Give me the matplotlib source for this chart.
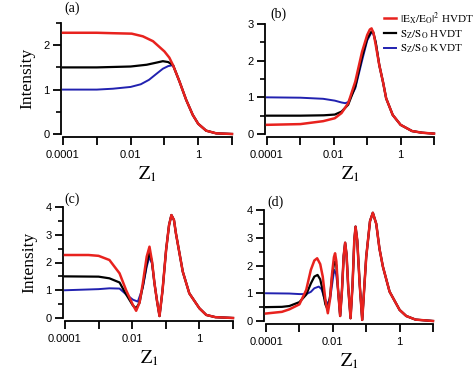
import matplotlib
matplotlib.use("Agg")
import matplotlib.pyplot as plt
from matplotlib.ticker import FixedLocator, MultipleLocator

plt.rcParams['mathtext.fontset'] = 'stix'

RED = '#e8221e'
BLACK = '#000000'
BLUE = '#2121b0'

# ---- panel (a) ----
za_tail = [0.28, 0.44, 0.69, 1.0, 1.72, 3.4, 10]
a_tail = [1.18, 0.77, 0.43, 0.23, 0.075, 0.015, 0.0]
za_red = [1e-4, 1e-3, 3e-3, 0.0108, 0.023, 0.046, 0.1, 0.14, 0.18]
a_red = [2.28, 2.28, 2.27, 2.26, 2.2, 2.09, 1.86, 1.72, 1.55]
za_black = [1e-4, 1e-3, 0.01, 0.03, 0.06, 0.09, 0.13, 0.18]
a_black = [1.5, 1.5, 1.52, 1.56, 1.61, 1.64, 1.62, 1.55]
za_blue = [1e-4, 1e-3, 3e-3, 0.01, 0.02, 0.035, 0.057, 0.09, 0.13, 0.18]
a_blue = [1.0, 1.0, 1.02, 1.06, 1.12, 1.22, 1.35, 1.47, 1.53, 1.55]

# ---- panel (b) ----
zb_tail = [0.23, 0.3, 0.37, 0.58, 1.0, 2.2, 4.4, 10]
b_tail = [1.88, 1.4, 0.97, 0.52, 0.25, 0.08, 0.035, 0.01]
zb_red = [1e-4, 1e-3, 0.0048, 0.0107, 0.017, 0.027, 0.044, 0.07, 0.1, 0.12, 0.135, 0.155, 0.18]
b_red = [0.25, 0.27, 0.35, 0.43, 0.57, 0.84, 1.43, 2.24, 2.7, 2.85, 2.88, 2.75, 2.43]
zb_black = [1e-4, 1e-3, 0.005, 0.0107, 0.017, 0.027, 0.044, 0.07, 0.1, 0.13, 0.15, 0.18]
b_black = [0.5, 0.5, 0.51, 0.53, 0.61, 0.8, 1.3, 2.1, 2.6, 2.78, 2.79, 2.5]
zb_blue = [1e-4, 1e-3, 0.0048, 0.0107, 0.017, 0.022, 0.027, 0.044, 0.07, 0.1, 0.13, 0.15, 0.18]
b_blue = [1.0, 0.99, 0.96, 0.91, 0.86, 0.84, 0.87, 1.25, 2.0, 2.55, 2.75, 2.76, 2.5]

# ---- panel (c) ----
zc_tail = [0.046, 0.055, 0.065, 0.08, 0.102, 0.125, 0.147, 0.175, 0.2, 0.32, 0.5, 1.0, 1.6, 3, 10]
c_tail = [1.25, 0.6, 0.07, 1.0, 2.45, 3.35, 3.71, 3.53, 3.05, 1.67, 0.89, 0.35, 0.11, 0.03, 0.0]
zc_red = [1e-4, 5e-4, 1e-3, 0.0021, 0.0042, 0.0066, 0.0105, 0.0131, 0.0165, 0.0207, 0.027, 0.0327, 0.039]
c_red = [2.27, 2.27, 2.24, 2.09, 1.61, 1.0, 0.47, 0.26, 0.55, 1.25, 2.21, 2.57, 2.03]
zc_black = [1e-4, 1e-3, 0.0021, 0.0042, 0.0066, 0.0105, 0.0131, 0.0165, 0.0207, 0.027, 0.0327, 0.039]
c_black = [1.5, 1.49, 1.43, 1.28, 0.85, 0.45, 0.35, 0.55, 1.15, 1.95, 2.39, 2.0]
zc_blue = [1e-4, 1e-3, 0.0021, 0.0042, 0.0066, 0.0105, 0.0147, 0.0207, 0.027, 0.0327, 0.039]
c_blue = [1.0, 1.04, 1.07, 1.06, 0.85, 0.66, 0.59, 1.1, 1.85, 2.21, 1.95]

# ---- panel (d) ----
zd_tail = [0.0142, 0.0166, 0.0188, 0.0212, 0.0234, 0.0258, 0.029, 0.034, 0.039, 0.044, 0.048,
           0.054, 0.064, 0.076, 0.1, 0.13, 0.158, 0.2, 0.25, 0.316, 0.5, 1.0, 1.58, 3, 10]
d_tail = [1.2, 0.18, 1.1, 2.35, 2.82, 2.4, 1.2, 0.1, 1.3, 2.9, 3.4,
          2.9, 1.3, 0.04, 2.3, 3.6, 3.9, 3.5, 2.6, 1.96, 1.06, 0.4, 0.18, 0.05, 0.0]
zd_red = [1e-4, 3e-4, 5e-4, 1e-3, 1.6e-3, 2.2e-3, 2.8e-3, 3.4e-3, 4.2e-3, 5e-3, 6e-3, 7.1e-3,
          8.3e-3, 9.5e-3, 0.0108, 0.0117, 0.0128]
d_red = [0.27, 0.33, 0.42, 0.6, 1.12, 1.84, 2.18, 2.26, 2.05, 1.6, 0.76, 0.28,
         0.8, 1.7, 2.3, 2.44, 2.15]
zd_black = [1e-4, 3e-4, 5e-4, 1e-3, 1.6e-3, 2.2e-3, 2.8e-3, 3.5e-3, 4.2e-3, 5e-3, 6e-3, 7e-3,
            8.3e-3, 9.5e-3, 0.0108, 0.0115, 0.0128]
d_black = [0.5, 0.51, 0.54, 0.68, 0.95, 1.35, 1.6, 1.66, 1.5, 1.1, 0.6, 0.42,
           0.9, 1.6, 2.05, 2.14, 2.0]
zd_blue = [1e-4, 5e-4, 1e-3, 1.6e-3, 2.2e-3, 2.8e-3, 3.8e-3, 4.6e-3, 5.5e-3, 7.1e-3,
           8.3e-3, 9.5e-3, 0.011, 0.0125]
d_blue = [1.0, 0.99, 0.97, 0.97, 1.05, 1.18, 1.24, 1.15, 0.85, 0.61,
          0.8, 1.3, 1.84, 1.7]

xticks = [1e-4, 1e-3, 1e-2, 1e-1, 1, 10]
xticklabels = ['0.0001', '', '0.01', '', '1', '']
legend_labels = [r'$|\mathrm{E}_{\mathrm{X}}/\mathrm{E}_{\mathrm{O}}|^{2}$ HVDT',
                 r'$\mathrm{S}_{\mathrm{Z}}/\mathrm{S}_{\mathrm{O}}$ HVDT',
                 r'$\mathrm{S}_{\mathrm{Z}}/\mathrm{S}_{\mathrm{O}}$ KVDT']

W, H = 474, 374
fig = plt.figure(figsize=(W / 100, H / 100), dpi=100)


def make_ax(x0, x1, y0, y_top):
    # pixel box -> figure fraction
    return fig.add_axes([x0 / W, 1 - y0 / H, (x1 - x0) / W, (y0 - y_top) / H])


panels = [
    (make_ax(63, 232, 134, 23), 2.5, 'a',
     (za_red + za_tail, a_red + a_tail), (za_black + za_tail, a_black + a_tail), (za_blue + za_tail, a_blue + a_tail)),
    (make_ax(267, 434, 134, 24), 3, 'b',
     (zb_red + zb_tail, b_red + b_tail), (zb_black + zb_tail, b_black + b_tail), (zb_blue + zb_tail, b_blue + b_tail)),
    (make_ax(65, 233, 318, 207), 4, 'c',
     (zc_red + zc_tail, c_red + c_tail), (zc_black + zc_tail, c_black + c_tail), (zc_blue + zc_tail, c_blue + c_tail)),
    (make_ax(266, 433, 321, 210), 4, 'd',
     (zd_red + zd_tail, d_red + d_tail), (zd_black + zd_tail, d_black + d_tail), (zd_blue + zd_tail, d_blue + d_tail)),
]

handles = []
for ax, ymax, tag, red, black, blue in panels:
    hb, = ax.plot(*blue, color=BLUE, lw=1.4, clip_on=False, zorder=3)
    hk, = ax.plot(*black, color=BLACK, lw=1.6, clip_on=False, zorder=4)
    hr, = ax.plot(*red, color=RED, lw=1.8, clip_on=False, zorder=5)
    if tag == 'b':
        handles = [hr, hk, hb]
    ax.set_xscale('log')
    ax.set_xlim(1e-4, 10)
    ax.set_ylim(0, ymax)
    ax.xaxis.set_major_locator(FixedLocator(xticks))
    ax.xaxis.set_minor_locator(FixedLocator([]))
    ax.set_xticklabels(xticklabels)
    ax.yaxis.set_major_locator(MultipleLocator(1))
    ax.yaxis.set_minor_locator(MultipleLocator(0.5))
    for s in ['top', 'right']:
        ax.spines[s].set_visible(False)
    ax.spines['left'].set_position(('outward', 1.5))
    ax.spines['bottom'].set_position(('outward', 2.2))
    for s in ['left', 'bottom']:
        ax.spines[s].set_linewidth(1.3)
    ax.tick_params(axis='x', which='major', direction='out', length=6, width=1.3, pad=3)
    ax.tick_params(axis='y', which='major', direction='out', length=5.5, width=1.3, pad=2.5)
    ax.tick_params(axis='y', which='minor', direction='out', length=3.5, width=1.2)
    for lab in ax.get_xticklabels() + ax.get_yticklabels():
        lab.set_fontfamily('Liberation Sans')
        lab.set_fontsize(8)
    ax.set_xlabel(r'$\mathrm{Z}_1$', fontsize=13.5, labelpad=3.5)
    if tag in ('a', 'c'):
        ax.set_ylabel('Intensity', family='Liberation Serif', fontsize=12.5, labelpad=6)
    ax.patch.set_visible(False)

fig.text(72 / W, 1 - 8 / H, '(a)', family='Liberation Serif', fontsize=10, ha='center', va='center')
fig.text(278 / W, 1 - 14 / H, '(b)', family='Liberation Serif', fontsize=10, ha='center', va='center')
fig.text(72 / W, 1 - 199 / H, '(c)', family='Liberation Serif', fontsize=10, ha='center', va='center')
fig.text(275 / W, 1 - 202 / H, '(d)', family='Liberation Serif', fontsize=10, ha='center', va='center')

fig.legend(handles, legend_labels, loc='upper left', bbox_to_anchor=(384 / W, 1 - 10 / H),
           frameon=False, borderpad=0, borderaxespad=0, handlelength=1.1, handletextpad=0.35,
           labelspacing=0.15, prop={'family': 'Liberation Serif', 'size': 8})

fig.savefig('out.png', dpi=100)
